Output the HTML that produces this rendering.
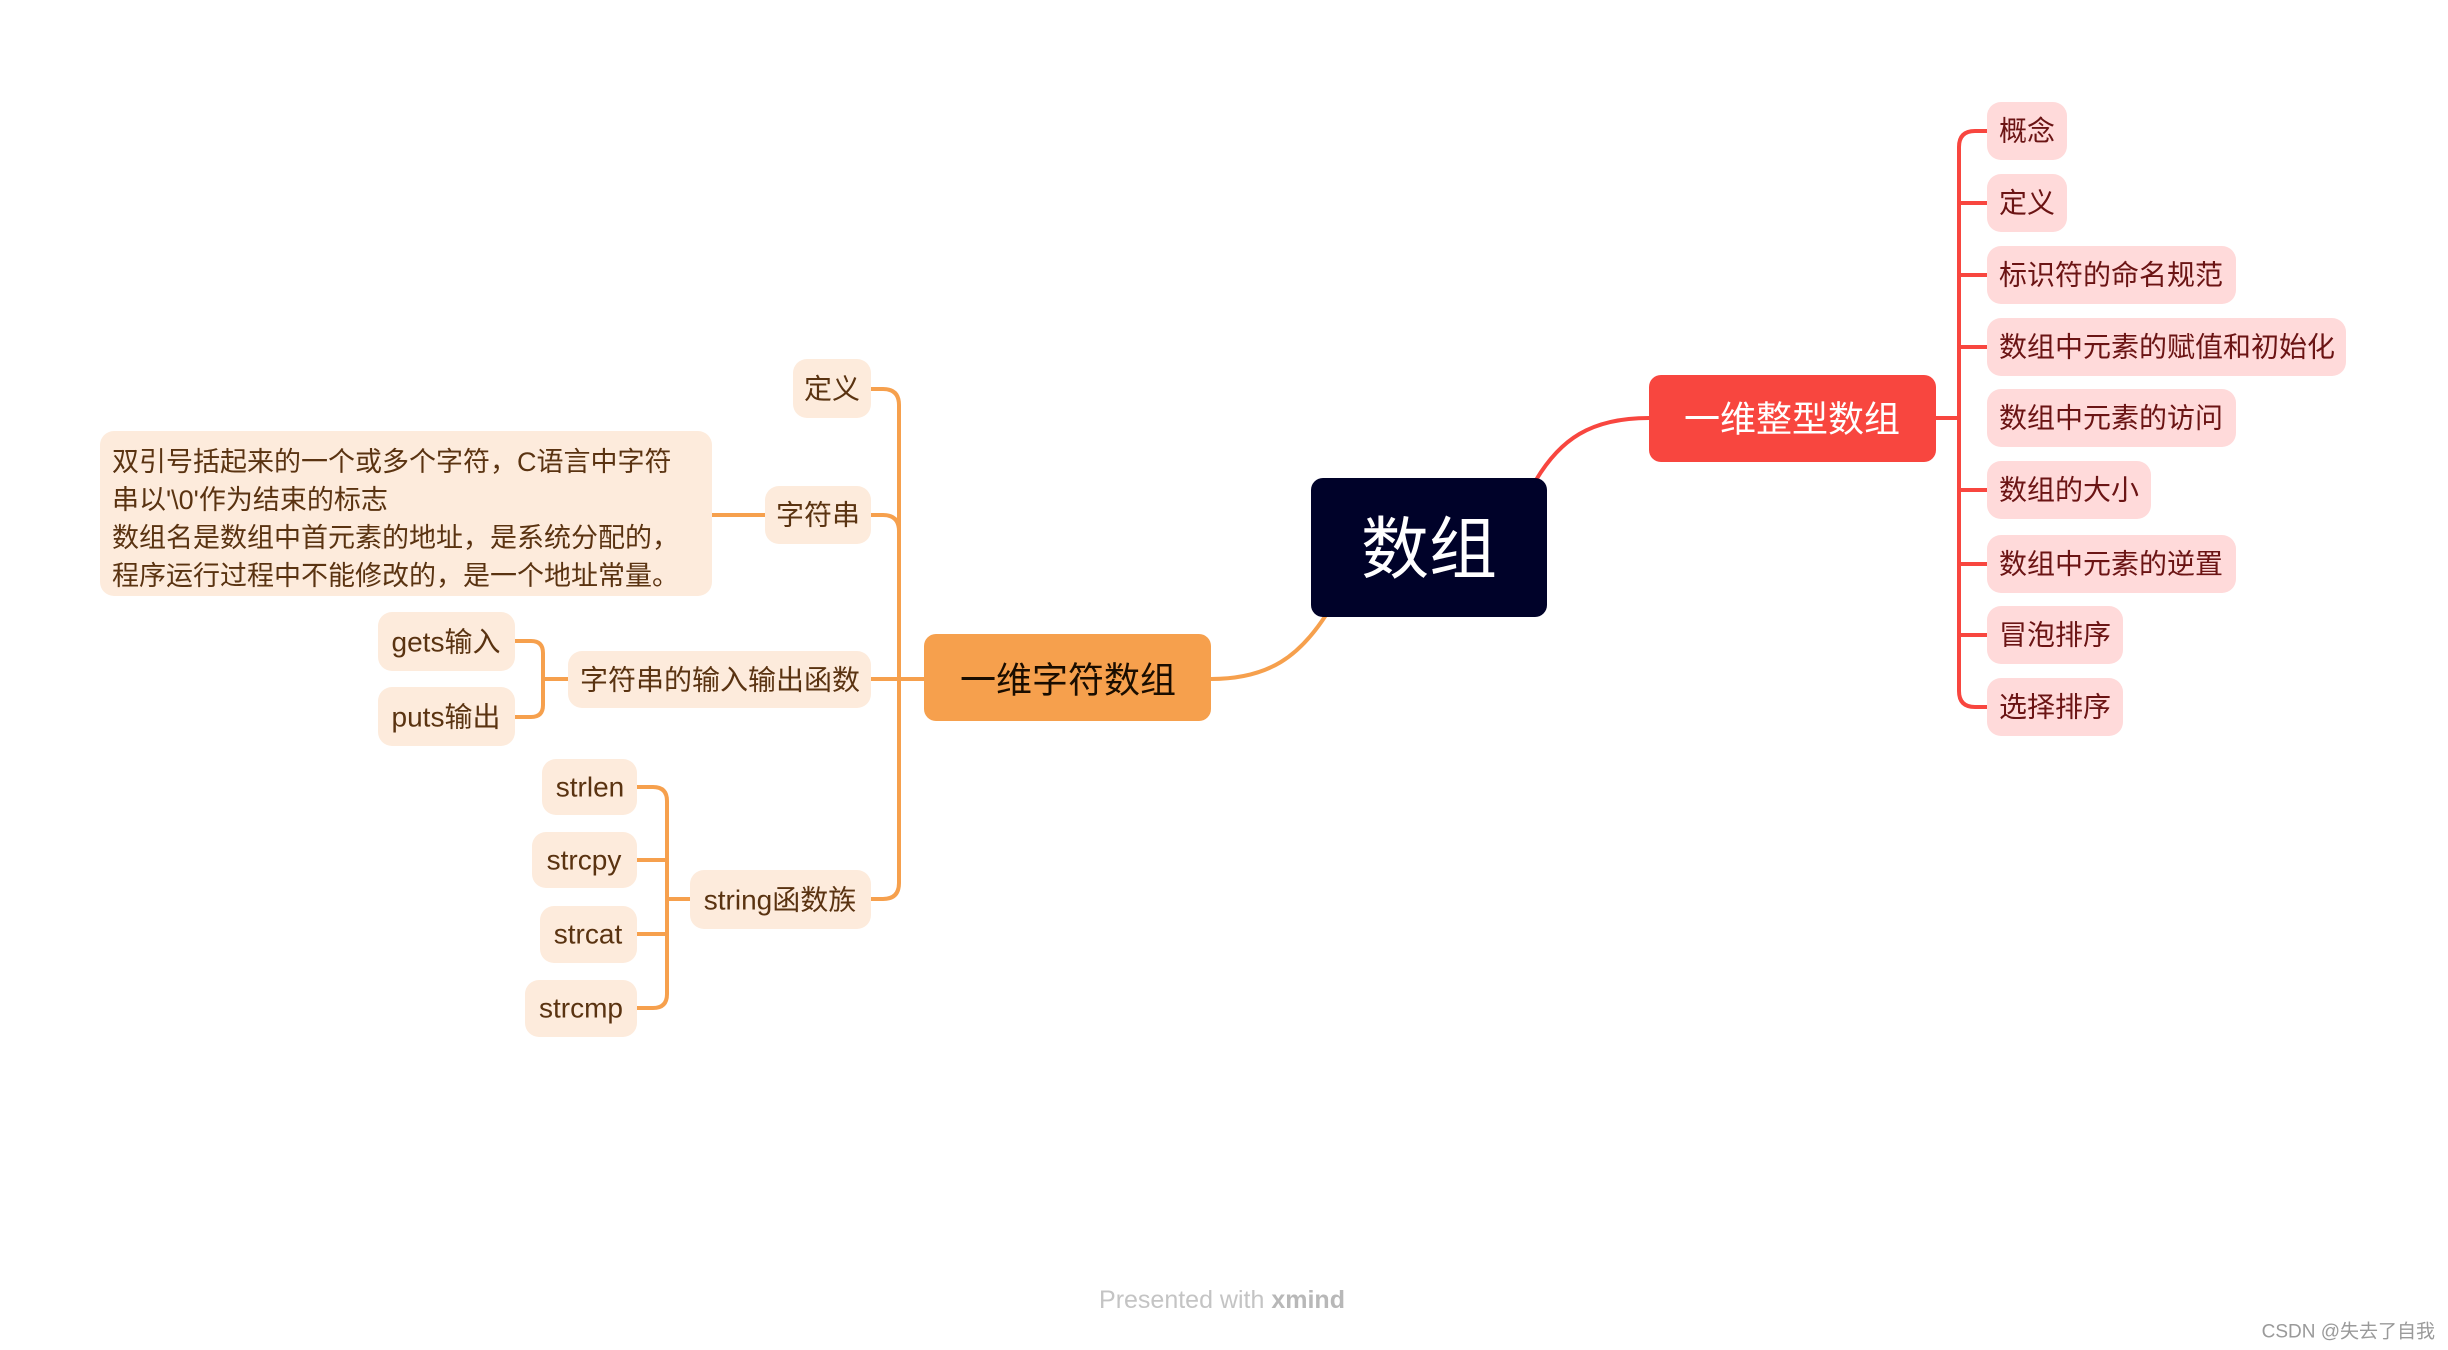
<!DOCTYPE html>
<html><head><meta charset="utf-8"><style>
html,body{margin:0;padding:0;background:#fff;}
svg{display:block;}
text{font-family:"Liberation Sans","Noto Sans CJK SC",sans-serif;}
</style></head><body>
<svg width="2448" height="1350" viewBox="0 0 2448 1350" xmlns="http://www.w3.org/2000/svg">
<g fill="none" stroke-width="4" stroke-linecap="round">
<!-- center to red -->
<path d="M1536 480 C1560 440,1590 418,1649 418" stroke="#F8463F"/>
<!-- red spine -->
<path d="M1936 418 L1959 418" stroke="#F8463F"/>
<path d="M1987 131 L1975 131 Q1959 131 1959 147 L1959 691 Q1959 707 1975 707 L1987 707" stroke="#F8463F"/>
<path d="M1959 203 H1987 M1959 275 H1987 M1959 347 H1987 M1959 490 H1987 M1959 564 H1987 M1959 635 H1987" stroke="#F8463F"/>
<!-- center to orange -->
<path d="M1326 615 C1300 655,1270 679,1211 679" stroke="#F6A04D"/>
<!-- orange spine -->
<path d="M924 679 H871" stroke="#F6A04D"/>
<path d="M871 389 L883 389 Q899 389 899 405 L899 883 Q899 899 883 899 L871 899" stroke="#F6A04D"/>
<path d="M871 515 L883 515 Q899 515 899 531" stroke="#F6A04D"/>
<path d="M765 515 H712" stroke="#F6A04D"/>
<!-- io subtree -->
<path d="M568 679 H543" stroke="#F6A04D"/>
<path d="M515 641 L531 641 Q543 641 543 653 L543 705 Q543 717 531 717 L515 717" stroke="#F6A04D"/>
<!-- string subtree -->
<path d="M690 899 H667" stroke="#F6A04D"/>
<path d="M637 787 L653 787 Q667 787 667 801 L667 994 Q667 1008 653 1008 L637 1008" stroke="#F6A04D"/>
<path d="M637 860 H667 M637 934 H667" stroke="#F6A04D"/>
</g>
<!-- central -->
<rect x="1311" y="478" width="236" height="139" rx="12" fill="#000229"/>
<text x="1429" y="550" font-size="68" fill="#fff" text-anchor="middle" dominant-baseline="central">数组</text>
<!-- red main -->
<rect x="1649" y="375" width="287" height="87" rx="12" fill="#F8463F"/>
<text x="1792" y="419" font-size="36" fill="#fff" text-anchor="middle" dominant-baseline="central">一维整型数组</text>
<g font-size="28" fill="#6b1414" dominant-baseline="central">
<rect x="1987" y="102" width="80" height="58" rx="14" fill="#FFDADA"/><text x="1999" y="131">概念</text>
<rect x="1987" y="174" width="80" height="58" rx="14" fill="#FFDADA"/><text x="1999" y="203">定义</text>
<rect x="1987" y="246" width="249" height="58" rx="14" fill="#FFDADA"/><text x="1999" y="275">标识符的命名规范</text>
<rect x="1987" y="318" width="359" height="58" rx="14" fill="#FFDADA"/><text x="1999" y="347">数组中元素的赋值和初始化</text>
<rect x="1987" y="389" width="249" height="58" rx="14" fill="#FFDADA"/><text x="1999" y="418">数组中元素的访问</text>
<rect x="1987" y="461" width="164" height="58" rx="14" fill="#FFDADA"/><text x="1999" y="490">数组的大小</text>
<rect x="1987" y="535" width="249" height="58" rx="14" fill="#FFDADA"/><text x="1999" y="564">数组中元素的逆置</text>
<rect x="1987" y="606" width="136" height="58" rx="14" fill="#FFDADA"/><text x="1999" y="635">冒泡排序</text>
<rect x="1987" y="678" width="136" height="58" rx="14" fill="#FFDADA"/><text x="1999" y="707">选择排序</text>
</g>
<!-- orange main -->
<rect x="924" y="634" width="287" height="87" rx="12" fill="#F6A04D"/>
<text x="1068" y="680" font-size="36" fill="#1a0d00" text-anchor="middle" dominant-baseline="central">一维字符数组</text>
<g font-size="28" fill="#5a3311" dominant-baseline="central" text-anchor="middle">
<rect x="793" y="359" width="78" height="59" rx="14" fill="#FDEBDC"/><text x="832" y="389">定义</text>
<rect x="765" y="486" width="106" height="58" rx="14" fill="#FDEBDC"/><text x="818" y="515">字符串</text>
<rect x="568" y="651" width="303" height="57" rx="14" fill="#FDEBDC"/><text x="720" y="680">字符串的输入输出函数</text>
<rect x="378" y="612" width="137" height="59" rx="14" fill="#FDEBDC"/><text x="446" y="642">gets输入</text>
<rect x="378" y="687" width="137" height="59" rx="14" fill="#FDEBDC"/><text x="446" y="717">puts输出</text>
<rect x="690" y="870" width="181" height="59" rx="14" fill="#FDEBDC"/><text x="780" y="900">string函数族</text>
<rect x="542" y="759" width="95" height="56" rx="14" fill="#FDEBDC"/><text x="590" y="787">strlen</text>
<rect x="532" y="832" width="105" height="56" rx="14" fill="#FDEBDC"/><text x="584" y="860">strcpy</text>
<rect x="540" y="906" width="97" height="57" rx="14" fill="#FDEBDC"/><text x="588" y="934">strcat</text>
<rect x="525" y="980" width="112" height="57" rx="14" fill="#FDEBDC"/><text x="581" y="1008">strcmp</text>
</g>
<rect x="100" y="431" width="612" height="165" rx="14" fill="#FDEBDC"/>
<g font-size="27" fill="#5a3311" dominant-baseline="central">
<text x="112" y="462">双引号括起来的一个或多个字符，C语言中字符</text>
<text x="112" y="500">串以'\0'作为结束的标志</text>
<text x="112" y="538">数组名是数组中首元素的地址，是系统分配的，</text>
<text x="112" y="576">程序运行过程中不能修改的，是一个地址常量。</text>
</g>
<text x="1222" y="1300" font-size="25" fill="#c4c4c4" text-anchor="middle" dominant-baseline="central">Presented with <tspan font-weight="bold" fill="#b8b8b8">xmind</tspan></text>
<text x="2435" y="1332" font-size="19" fill="#9a9a9a" text-anchor="end" dominant-baseline="central">CSDN @失去了自我</text>
</svg>
</body></html>
